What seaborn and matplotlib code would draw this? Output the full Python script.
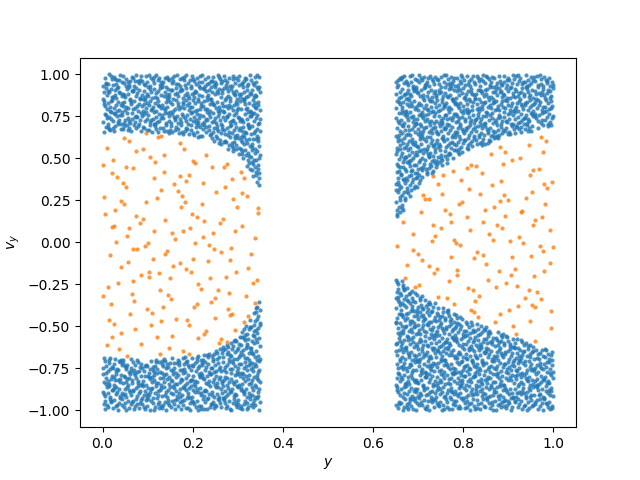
import numpy as np
import matplotlib
matplotlib.use("Agg")
import matplotlib.pyplot as plt
import seaborn as sns
import pandas as pd

# Boundaries of the orange (inner) region
left_y = [0.0, 0.1, 0.2, 0.25, 0.3, 0.33, 0.35]
left_top = [0.65, 0.66, 0.63, 0.6, 0.52, 0.42, 0.32]
left_bot = [-0.68, -0.7, -0.68, -0.64, -0.56, -0.45, -0.3]
right_y = [0.65, 0.68, 0.7, 0.75, 0.8, 0.9, 1.0]
right_top = [0.12, 0.25, 0.33, 0.45, 0.53, 0.63, 0.7]
right_bot = [-0.18, -0.25, -0.3, -0.38, -0.45, -0.55, -0.65]

def halton(n, b):
    out = np.zeros(n)
    for i in range(n):
        f, r, k = 1.0, 0.0, i + 1
        while k > 0:
            f /= b
            r += f * (k % b)
            k //= b
        out[i] = r
    return out

n = 7000
u = halton(n, 2); v = halton(n, 3); w = halton(n, 5)
ys = np.where(u < 0.5, u * 0.7, 0.65 + (u - 0.5) * 0.7)
vs = v * 2 - 1
top = np.where(ys < 0.5, np.interp(ys, left_y, left_top), np.interp(ys, right_y, right_top))
bot = np.where(ys < 0.5, np.interp(ys, left_y, left_bot), np.interp(ys, right_y, right_bot))
inside = (vs < top) & (vs > bot)
keep_orange = inside & (w < 0.08)
blue = ~inside

df_b = pd.DataFrame({"y": ys[blue], "vy": vs[blue]})
df_o = pd.DataFrame({"y": ys[keep_orange], "vy": vs[keep_orange]})

fig, ax = plt.subplots(figsize=(6.4, 4.8), dpi=100)
sns.scatterplot(data=df_b, x="y", y="vy", color="#1f77b4", s=9, alpha=0.8, linewidth=0, ax=ax)
sns.scatterplot(data=df_o, x="y", y="vy", color="#ff7f0e", s=9, alpha=0.8, linewidth=0, ax=ax)
ax.set_xlabel("$y$")
ax.set_ylabel("$v_y$")
ax.set_xlim(-0.05, 1.05)
ax.set_ylim(-1.1, 1.1)
ax.set_yticks(np.arange(-1, 1.01, 0.25))
fig.savefig("out.png")
